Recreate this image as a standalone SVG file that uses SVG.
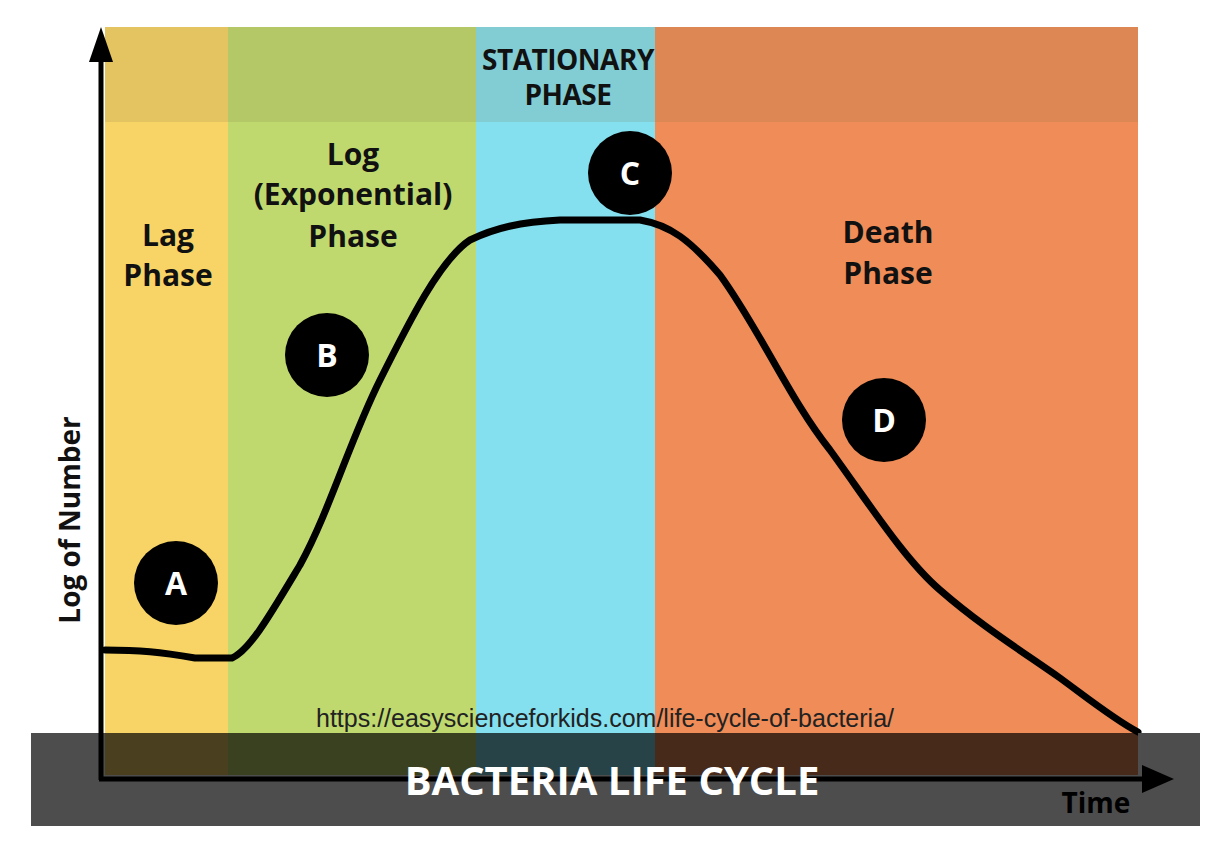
<svg xmlns="http://www.w3.org/2000/svg" width="1218" height="854" viewBox="0 0 1218 854">
<style>
.lbl{font-family:"Open Sans","Liberation Sans",sans-serif;font-weight:bold;font-size:30px;fill:#111;text-anchor:middle}
.badge circle{fill:#000}
.badge text{font-family:"Open Sans","Liberation Sans",sans-serif;font-weight:bold;font-size:32px;fill:#fff;text-anchor:middle}
</style>
<rect width="1218" height="854" fill="#fff"/>
<g id="bands">
<rect x="105" y="27" width="123" height="748" fill="#f7d465"/>
<rect x="228" y="27" width="248" height="748" fill="#bfd96f"/>
<rect x="476" y="27" width="179" height="748" fill="#84dfee"/>
<rect x="655" y="27" width="483" height="748" fill="#ef8c57"/>
<rect x="105" y="27" width="1033" height="95" fill="#7a6a40" opacity="0.15"/>
</g>
<g id="connectors">
<path d="M105,650 C140,650 160,652 195,658 L232,658 C250,650 270,615 300,565 C330,510 350,440 380,380 C410,320 440,260 470,240 C495,228 520,222 560,220 L640,220 C670,225 690,240 720,275 C760,330 790,400 830,450 C870,505 905,560 940,590 C980,625 1020,650 1060,678 C1090,700 1115,720 1138,732" fill="none" stroke="#000" stroke-width="7" stroke-linejoin="round" stroke-linecap="round"/>
</g>
<path d="M31,733 H1200 V826 H31 Z M105,733 V775 H1138 V733 Z" fill="#4d4d4d" fill-rule="evenodd"/>
<rect x="105" y="733" width="1033" height="42" fill="#000" opacity="0.7"/>
<g id="axes" stroke="#000" stroke-width="5" fill="none">
<path d="M101,780 L101,50"/>
<path d="M99,779 L1150,779"/>
</g>
<polygon points="101,27 89,62 113,62" fill="#000"/>
<polygon points="1174,779 1142,765 1142,793" fill="#000"/>
<g id="lag"><text class="lbl" x="168" y="246">Lag</text><text class="lbl" x="168" y="286">Phase</text></g>
<g id="log"><text class="lbl" x="353" y="165">Log</text><text class="lbl" x="353" y="205">(Exponential)</text><text class="lbl" x="353" y="247">Phase</text></g>
<g id="stationary"><text class="lbl" x="568" y="70" style="font-size:28px;letter-spacing:-0.5px">STATIONARY</text><text class="lbl" x="568" y="105" style="font-size:28px;letter-spacing:-0.5px">PHASE</text></g>
<g id="death"><text class="lbl" x="888" y="243">Death</text><text class="lbl" x="888" y="284">Phase</text></g>
<g id="A" class="badge"><circle cx="176" cy="583" r="42"/><text x="176" y="595">A</text></g>
<g id="B" class="badge"><circle cx="327" cy="355" r="42"/><text x="327" y="367">B</text></g>
<g id="C" class="badge"><circle cx="630" cy="173" r="42"/><text x="630" y="185">C</text></g>
<g id="D" class="badge"><circle cx="884" cy="420" r="42"/><text x="884" y="432">D</text></g>
<text x="80" y="520" transform="rotate(-90 80 520)" class="lbl" style="font-size:28px">Log of Number</text>
<text x="605" y="727" style="font-family:'Liberation Sans',sans-serif;font-size:25px;fill:#222;text-anchor:middle">https://easyscienceforkids.com/life-cycle-of-bacteria/</text>
<text x="612" y="795" class="lbl" style="font-size:40px;fill:#fff">BACTERIA LIFE CYCLE</text>
<text x="1096" y="813" class="lbl" style="font-size:28px;fill:#000">Time</text>
</svg>
